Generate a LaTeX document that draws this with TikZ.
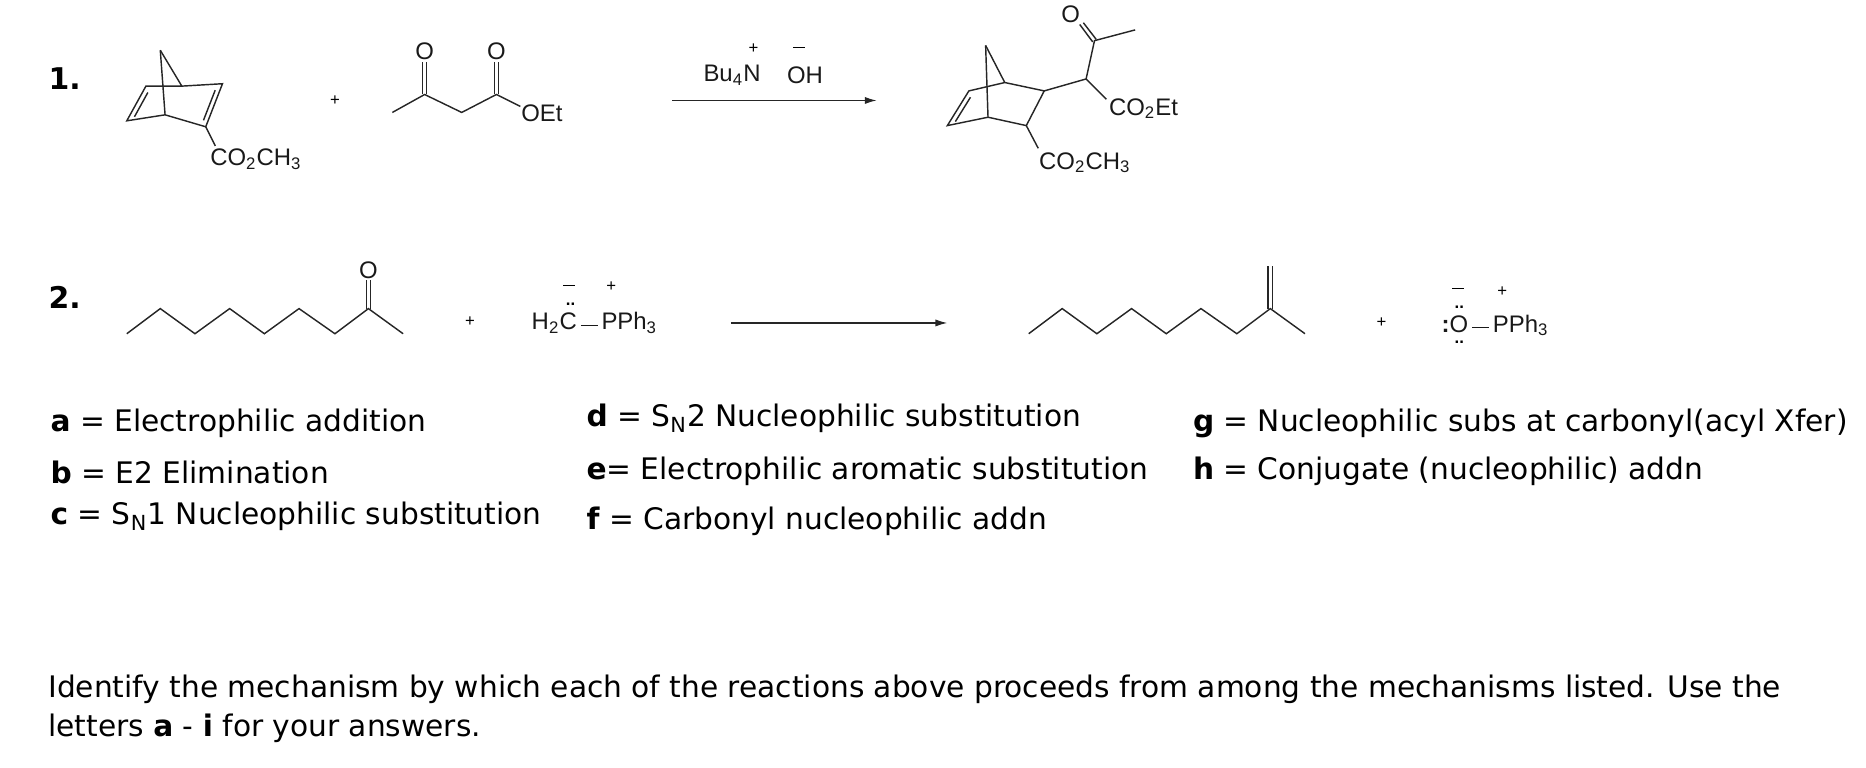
\documentclass[tikz,border=0pt]{standalone}
\usepackage{fontspec}
\usetikzlibrary{arrows.meta,calc}
\setmainfont{DejaVu Sans}
\newfontfamily\chemf{Liberation Sans}
\newcommand{\mybar}{\rule[0.3ex]{5pt}{0.5pt}}
\begin{document}
\begin{tikzpicture}[x=0.5pt,y=-0.5pt,
  bd/.style={line width=0.6pt,gray!30!black},
  ch/.style={font=\chemf\fontsize{10}{10}\selectfont,inner sep=0.5pt,text=gray!20!black},
  sm/.style={font=\chemf\fontsize{7}{7}\selectfont,inner sep=0pt},
  tx/.style={font=\fontsize{12.4}{14}\selectfont,anchor=west,inner sep=0pt},
  num/.style={font=\bfseries\fontsize{12.5}{14}\selectfont,inner sep=0pt},
  arr/.style={bd,-{Latex[length=5pt,width=3pt]}}]
\useasboundingbox (0,0) rectangle (1560,642);
% reaction 1
\node[num] (n1) at (54,66) {1.};
\coordinate (a1) at (134,42); \coordinate (a2) at (152,72); \coordinate (a3) at (186,70);
\coordinate (a4) at (172,106); \coordinate (a5) at (138,96); \coordinate (a6) at (106,101);
\coordinate (a7) at (122,72); \coordinate (a8) at (180,122);
\draw[bd] (a1)--(a2)--(a3)--(a4)--(a5)--(a6)--(a7)--(a2);
\draw[bd] (a1)--(a5);
\draw[bd] ($(a3)!0.15!(a4)+(-4,0)$) -- ($(a3)!0.85!(a4)+(-4,0)$);
\draw[bd] ($(a6)!0.15!(a7)+(4,1)$) -- ($(a6)!0.85!(a7)+(4,1)$);
\draw[bd] (a4)--(a8);
\node[ch] (m1) at (214,133) {CO\textsubscript{2}CH\textsubscript{3}};
\node[sm] (p1) at (280,84) {+};
\coordinate (b1) at (328,94); \coordinate (b2) at (355,79); \coordinate (b3) at (386,94);
\coordinate (b4) at (415,79); \coordinate (b5) at (435,89);
\node[ch] (o1) at (355,43) {O}; \node[ch] (o2) at (415,43) {O};
\node[ch] (oet) at (453,95) {OEt};
\draw[bd] (b1)--(b2)--(b3)--(b4)--(b5);
\draw[bd] ($(b2)+(-1.6,0)$)--($(o1.south)+(-1.6,0)$); \draw[bd] ($(b2)+(1.6,0)$)--($(o1.south)+(1.6,0)$);
\draw[bd] ($(b4)+(-1.6,0)$)--($(o2.south)+(-1.6,0)$); \draw[bd] ($(b4)+(1.6,0)$)--($(o2.south)+(1.6,0)$);
\coordinate (r1s) at (562,84); \coordinate (r1e) at (733,84);
\draw[arr] (r1s)--(r1e);
\node[ch] (bu) at (612,63) {Bu\textsubscript{4}N}; \node[ch] (oh) at (673,63) {OH};
\node[sm] (bup) at (630,41) {+}; \node[sm] (ohm) at (668,41) {\mybar};
% product 1
\coordinate (c1) at (824,38); \coordinate (c2) at (840,69); \coordinate (c3) at (873,76);
\coordinate (c4) at (858,105); \coordinate (c5) at (826,98); \coordinate (c6) at (792,105);
\coordinate (c7) at (810,76); \coordinate (c8) at (868,124);
\coordinate (d1) at (908,66); \coordinate (d2) at (915,34); \coordinate (d3) at (949,25);
\coordinate (d4) at (925,83);
\draw[bd] (c1)--(c2)--(c3)--(c4)--(c5)--(c6)--(c7)--(c2); \draw[bd] (c1)--(c5);
\draw[bd] ($(c6)!0.15!(c7)+(4,1)$) -- ($(c6)!0.85!(c7)+(4,1)$);
\draw[bd] (c4)--(c8); \draw[bd] (c3)--(d1)--(d2)--(d3); \draw[bd] (d1)--(d4);
\node[ch] (o3) at (895,12) {O};
\draw[bd] ($(d2)+(-1.5,1)$)--($(o3.south east)+(-1.5,0)$); \draw[bd] ($(d2)+(1.5,-1)$)--($(o3.south east)+(1.5,-1.5)$);
\node[ch] (m2) at (907,136) {CO\textsubscript{2}CH\textsubscript{3}};
\node[ch] (m3) at (956,91) {CO\textsubscript{2}Et};
% reaction 2
\node[num] (n2) at (54,249) {2.};
\foreach \i/\x/\y in {1/106/279,2/134/258,3/163/279,4/192/258,5/221/279,6/250/258,7/280/279,8/308/258,9/337/279}{
  \coordinate (k\i) at (\x,\y); \coordinate (q\i) at (\x+754,\y);}
\draw[bd] (k1)--(k2)--(k3)--(k4)--(k5)--(k6)--(k7)--(k8)--(k9);
\draw[bd] (q1)--(q2)--(q3)--(q4)--(q5)--(q6)--(q7)--(q8)--(q9);
\node[ch] (o4) at (308,226) {O};
\draw[bd] ($(k8)+(-1.6,0)$)--($(o4.south)+(-1.6,0)$); \draw[bd] ($(k8)+(1.6,0)$)--($(o4.south)+(1.6,0)$);
\coordinate (q10) at (1062,222);
\draw[bd] ($(q8)+(-2,0)$)--($(q10)+(-2,0)$); \draw[bd] ($(q8)+(2,0)$)--($(q10)+(2,0)$);
\node[sm] (p2) at (393,269) {+};
\node[ch] (yl) at (497,270) {H\textsubscript{2}C\,\rule[0.3ex]{7pt}{0.5pt}\,PPh\textsubscript{3}};
\node[sm] (ylm) at (476,240) {\mybar}; \node[sm] (ylp) at (511,240) {+};
\node[sm] (yld) at (477,254) {\textbf{..}};
\coordinate (r2s) at (611,270); \coordinate (r2e) at (792,270);
\draw[arr] (r2s)--(r2e);
\node[sm] (p3) at (1155,270) {+};
\node[ch] (po) at (1250,272) {\textbf{:}O\,\rule[0.3ex]{7pt}{0.5pt}\,PPh\textsubscript{3}};
\node[sm] (pom) at (1219,242) {\mybar}; \node[sm] (pop) at (1256,244) {+};
\node[sm] (pod1) at (1220,257) {\textbf{..}}; \node[sm] (pod2) at (1220,286) {\textbf{..}};
% list
\node[tx] (la) at (42,354) {\textbf{a} = Electrophilic addition};
\node[tx] (lb) at (42,395) {\textbf{b} = E2 Elimination};
\node[tx] (lc) at (42,432) {\textbf{c} = S\textsubscript{N}1 Nucleophilic substitution};
\node[tx] (ld) at (490,350) {\textbf{d} = S\textsubscript{N}2 Nucleophilic substitution};
\node[tx] (le) at (490,394) {\textbf{e}= Electrophilic aromatic substitution};
\node[tx] (lf) at (490,436) {\textbf{f} = Carbonyl nucleophilic addn};
\node[tx] (lg) at (997,354) {\textbf{g} = Nucleophilic subs at carbonyl(acyl Xfer)};
\node[tx] (lh) at (997,394) {\textbf{h} = Conjugate (nucleophilic) addn};
\node[tx] (q1t) at (40,576) {Identify the mechanism by which each of the reactions above proceeds from among the mechanisms listed. Use the};
\node[tx] (q2t) at (40,609) {letters \textbf{a} - \textbf{i} for your answers.};
\end{tikzpicture}
\end{document}
